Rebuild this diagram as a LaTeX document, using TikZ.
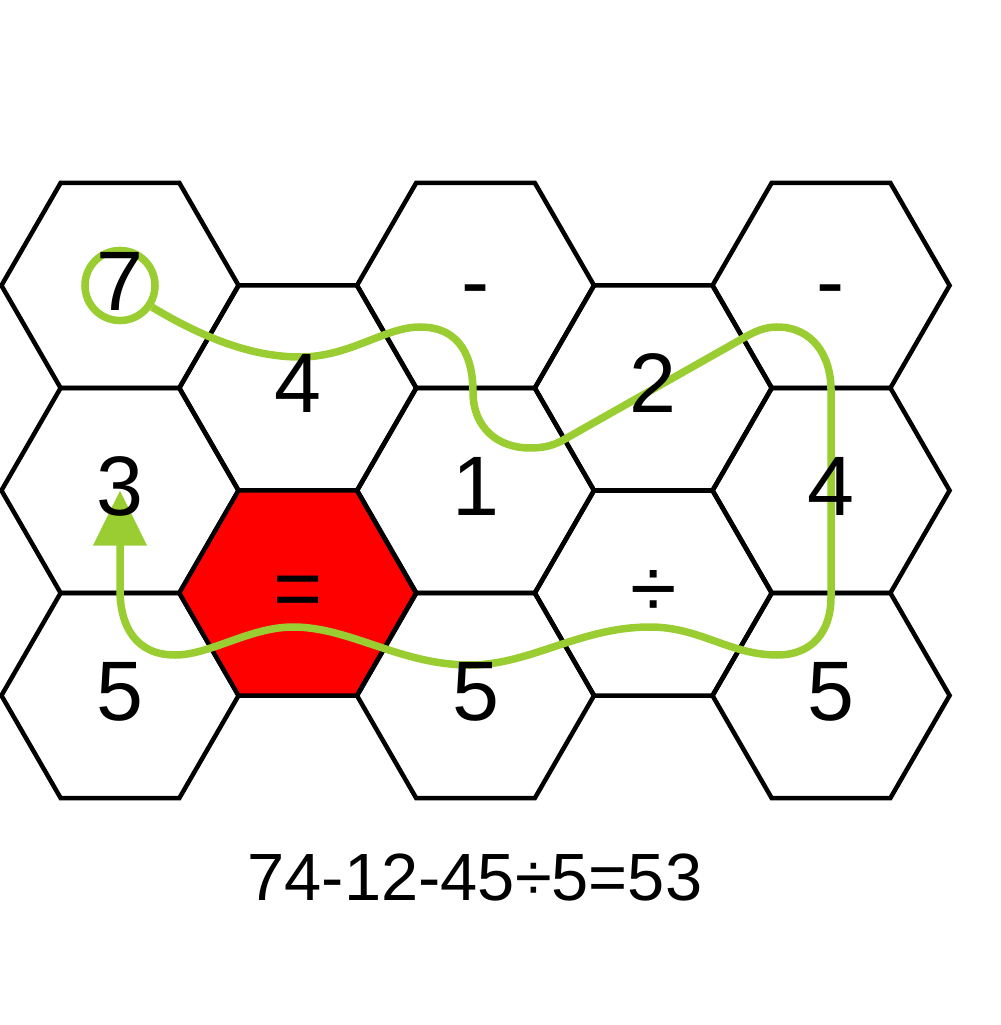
\documentclass[tikz,border=0pt]{standalone}
\usepackage{fontspec}
\setmainfont{Liberation Sans}
\usetikzlibrary{arrows.meta,shapes.geometric}
\definecolor{trailgreen}{RGB}{154,205,50}

\begin{document}
\begin{tikzpicture}[x=0.01cm, y=-0.01cm,
		hex/.style={regular polygon, regular polygon sides=6, minimum size=2.37cm, inner sep=0pt, draw=black, line width=0.045cm},
		digit/.style={font=\fontsize{24}{28}\selectfont, text height=0.61cm, text depth=0.12cm, inner sep=0pt},
		ring/.style={circle, draw=trailgreen, line width=0.075cm, minimum size=0.70cm, inner sep=0pt},
		trail/.style={draw=trailgreen, line width=0.075cm, -{Triangle[length=0.55cm, width=0.52cm]}}]
				\useasboundingbox (0,0) rectangle (1000,1025);

				\node[hex] (h00) at (120, 285.5) {};
				\node[hex] (h01) at (120, 490.5) {};
				\node[hex] (h02) at (120, 695.5) {};
				\node[hex] (h10) at (297.8, 388) {};
				\node[hex, fill=red] (h11) at (297.8, 593) {};
				\node[hex] (h20) at (475.5, 285.5) {};
				\node[hex] (h21) at (475.5, 490.5) {};
				\node[hex] (h22) at (475.5, 695.5) {};
				\node[hex] (h30) at (653.3, 388) {};
				\node[hex] (h31) at (653.3, 593) {};
				\node[hex] (h40) at (831, 285.5) {};
				\node[hex] (h41) at (831, 490.5) {};
				\node[hex] (h42) at (831, 695.5) {};

				\node[ring] (start) at (h00) {};
				\draw[trail] (start.-34) .. controls (200,336) and (250,357) .. (300,357)
					.. controls (350,357) and (385,327) .. (420,327)
					.. controls (462,327) and (473,360) .. (473,392)
					.. controls (473,428) and (498,448) .. (530,448)
					.. controls (545,448) and (555,445) .. (565,439)
					-- (740,340)
					.. controls (755,331) and (765,327) .. (777,327)
					.. controls (812,327) and (831,355) .. (831,390)
					-- (831,597)
					.. controls (831,632) and (812,655) .. (777,655)
					.. controls (730,655) and (700,627) .. (650,627)
					.. controls (580,627) and (530,665) .. (470,665)
					.. controls (400,665) and (350,627) .. (293,627)
					.. controls (250,627) and (210,655) .. (175,655)
					.. controls (135,655) and (120,625) .. (120,590)
					-- (h01.center);

				\node[digit] (n00) at (h00) {7};
				\node[digit] (n01) at (h01) {3};
				\node[digit] (n02) at (h02) {5};
				\node[digit] (n10) at (h10) {4};
				\node[digit] (n11) at (h11) {=};
				\node[digit] (n20) at (h20) {-};
				\node[digit] (n21) at (h21) {1};
				\node[digit] (n22) at (h22) {5};
				\node[digit] (n30) at (h30) {2};
				\node[digit] (n31) at (h31) {÷};
				\node[digit] (n40) at (h40) {-};
				\node[digit] (n41) at (h41) {4};
				\node[digit] (n42) at (h42) {5};

				\node[font=\fontsize{19}{23}\selectfont] (equation) at (475, 877.5) {74-12-45÷5=53};
		\end{tikzpicture}
\end{document}
